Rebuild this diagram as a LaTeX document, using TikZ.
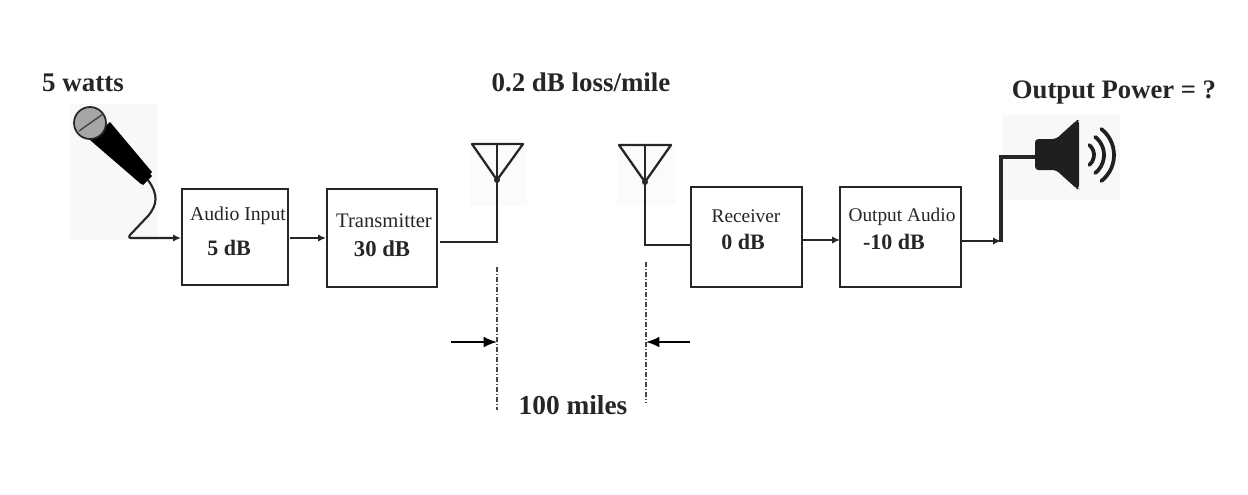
\documentclass[tikz,border=0pt]{standalone}
\usepackage{fontspec}
\setmainfont{Liberation Serif}
\usetikzlibrary{arrows.meta}
\definecolor{ink}{HTML}{262626}
\definecolor{patch}{HTML}{F8F8F8}
\definecolor{patchlight}{HTML}{FBFBFB}
\tikzset{
  x=0.75pt,y=-0.75pt,
  block/.style={draw=ink,line width=1.4pt,fill=white,inner sep=0pt,minimum width=0pt},
  head/.style={text=ink,font=\bfseries\fontsize{20.2}{24}\selectfont,inner sep=0pt},
  gain/.style={text=ink,font=\bfseries\fontsize{16.5}{20}\selectfont,inner sep=0pt},
  tag/.style={text=ink,font=\fontsize{14.8}{18}\selectfont,inner sep=0pt},
  wire/.style={draw=ink,line width=1.5pt},
  feed/.style={wire,-{Latex[length=6pt,width=5.5pt]}},
  gap/.style={draw=black,line width=1.2pt,-{Latex[length=10pt,width=8pt]}},
  span/.style={draw=ink!85,line width=1.4pt,dash pattern=on 3.5pt off 1.5pt on 1pt off 1.5pt},
}
\begin{document}
\begin{tikzpicture}
\useasboundingbox (0,0) rectangle (1248,494);
\fill[white] (0,0) rectangle (1248,494);
% faint patches
\fill[patch] (70,104) rectangle (158,240);
\fill[patch] (1003,115) rectangle (1120,200);
\fill[patchlight] (470,146) rectangle (527,206);
\fill[patchlight] (617,146) rectangle (676,205);
% blocks
\draw[block] (182,189) rectangle (288,285);
\draw[block] (327,189) rectangle (437,287);
\draw[block] (691,187) rectangle (802,287);
\draw[block] (840,187) rectangle (961,287);
\coordinate (aiE) at (290,238);
\coordinate (aiW) at (181,238);
\coordinate (txW) at (326,238);
\coordinate (txE) at (440,242);
\coordinate (rxW) at (691,245);
\coordinate (rxE) at (802,240);
\coordinate (oaW) at (840,240);
\coordinate (oaE) at (961,241);
\coordinate (corner) at (1001,241);
\coordinate (spk) at (1036,157);
% labels
\node[head] (watts) at (83,82.5) {5 watts};
\node[head] (loss) at (581,82) {0.2 dB loss/mile};
\node[head,font=\bfseries\fontsize{20}{24}\selectfont] (outp) at (1114,93) {Output Power = ?};
\node[head,font=\bfseries\fontsize{20.5}{24}\selectfont] (miles) at (573,405.5) {100 miles};
\node[tag] (t1) at (238,216) {Audio Input};
\node[gain] (g1) at (229,248) {5 dB};
\node[tag,font=\fontsize{15.5}{18}\selectfont] (t2) at (384,221) {Transmitter};
\node[gain,font=\bfseries\fontsize{17}{20}\selectfont] (g2) at (382,249) {30 dB};
\node[tag,font=\fontsize{14.5}{18}\selectfont] (t3) at (746,216) {Receiver};
\node[gain] (g3) at (743,242) {0 dB};
\node[tag,font=\fontsize{14.5}{18}\selectfont] (t4) at (902,217) {Output Audio};
\node[gain] (g4) at (894,242) {-10 dB};
% microphone
\coordinate (micEnd) at (148,180);
\fill[black] (110,122) -- (90,140) -- (141,184) -- (152,172) -- cycle;
\fill[black] (137,180) -- (143,185) -- (152,176) -- (147,170) -- cycle;
\draw[draw=ink,fill=gray!70,line width=1.3pt] (90,123) circle (16);
\draw[ink!85,line width=1.1pt] (79,131) -- (103,114);
\draw[feed,line width=1.6pt] (micEnd) .. controls (158,194) and (158,204) .. (148,216) -- (130,235) .. controls (128,238) and (130,238) .. (133,238) -- (aiW);
% connectors
\draw[feed] (aiE) -- (txW);
\draw[feed] (rxE) -- (oaW);
% antennas
\coordinate (tipL) at (497,180);
\coordinate (tipR) at (645,182);
\draw[wire,line width=1.7pt,line join=round] (472,144) -- (523,144) -- (tipL) -- cycle;
\draw[wire,line width=1.7pt] (497,144) -- (tipL);
\draw[wire,line width=1.7pt,line join=round] (619,145) -- (671,145) -- (tipR) -- cycle;
\draw[wire,line width=1.7pt] (645,145) -- (tipR);
\fill[ink] (tipL) circle (3);
\fill[ink] (tipR) circle (3);
\draw[wire,line width=1.7pt] (txE) -| (tipL);
\draw[wire,line width=1.7pt] (rxW) -| (tipR);
% span lines
\coordinate (l1) at (497,267); \coordinate (l2) at (497,410);
\coordinate (r1) at (646,262); \coordinate (r2) at (646,403);
\draw[span] (l1) -- (l2);
\draw[span] (r1) -- (r2);
\coordinate (la) at (451,342); \coordinate (lb) at (497,342);
\coordinate (ra) at (690,342); \coordinate (rb) at (646,342);
\draw[gap] (la) -- (lb);
\draw[gap] (ra) -- (rb);
% output line
\draw[feed] (oaE) -- (corner);
\draw[draw=ink,line width=2.4pt,line join=miter] (1001,242) -- (1001,157) -- (spk);
% speaker
\fill[black!88,rounded corners=2.5pt] (1035,139) -- (1056,139) -- (1077,120) -- (1079,120) -- (1079,189) -- (1077,189) -- (1056,170) -- (1035,170) -- cycle;
\foreach \r/\a in {13/50,23/52,33/52}{
  \draw[black!88,line width=2.8pt,line cap=round] ({1081+\r*cos(\a)},{155-\r*sin(\a)}) arc[start angle=-\a,end angle=\a,radius=\r];
}
\end{tikzpicture}
\end{document}
